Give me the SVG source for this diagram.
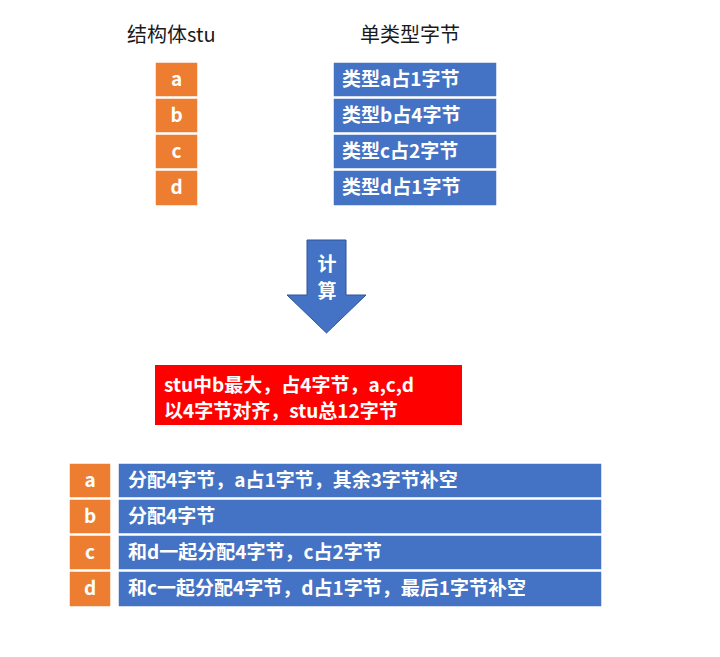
<svg xmlns="http://www.w3.org/2000/svg" width="720" height="657" viewBox="0 0 720 657">
<style>
text{font-family:"Noto Sans CJK SC","Noto Sans",sans-serif;font-weight:bold;}
.o{fill:#ED7D31;stroke:#fff;stroke-width:1.5}
.b{fill:#4472C4;stroke:#fff;stroke-width:1.5}
.w{fill:#fff;font-size:19px}
.h{fill:#1a1a1a;font-size:20px;font-weight:normal}
</style>
<rect width="720" height="657" fill="#fff"/>
<text class="h" x="127" y="42">结构体stu</text>
<text class="h" x="360" y="42">单类型字节</text>
<g id="stu">
<rect class="o" x="155" y="62" width="43" height="35"/><text class="w" x="176.5" y="86" text-anchor="middle">a</text>
<rect class="o" x="155" y="98" width="43" height="35"/><text class="w" x="176.5" y="122" text-anchor="middle">b</text>
<rect class="o" x="155" y="134" width="43" height="35"/><text class="w" x="176.5" y="158" text-anchor="middle">c</text>
<rect class="o" x="155" y="170" width="43" height="36"/><text class="w" x="176.5" y="194" text-anchor="middle">d</text>
</g>
<g id="types">
<rect class="b" x="333" y="62" width="164" height="35"/><text class="w" x="342" y="86">类型a占1字节</text>
<rect class="b" x="333" y="98" width="164" height="35"/><text class="w" x="342" y="122">类型b占4字节</text>
<rect class="b" x="333" y="134" width="164" height="35"/><text class="w" x="342" y="158">类型c占2字节</text>
<rect class="b" x="333" y="170" width="164" height="36"/><text class="w" x="342" y="194">类型d占1字节</text>
</g>
<g id="connectors">
<polygon points="307,240 346,240 346,295 366,295 326.5,333 287,295 307,295" fill="#4472C4" stroke="#2F5597" stroke-width="1"/>
<text x="327" y="271" fill="#fff" font-size="19" font-weight="normal" text-anchor="middle">计</text>
<text x="327" y="298" fill="#fff" font-size="19" font-weight="normal" text-anchor="middle">算</text>
</g>
<g id="result">
<rect x="155" y="365" width="307" height="60" fill="#FF0000"/>
<text class="w" x="164" y="392">stu中b最大，占4字节，a,c,d</text>
<text class="w" x="164" y="418">以4字节对齐，stu总12字节</text>
</g>
<g id="layout">
<rect class="o" x="69" y="463" width="42" height="35"/><text class="w" x="90" y="487" text-anchor="middle">a</text>
<rect class="o" x="69" y="499" width="42" height="35"/><text class="w" x="90" y="523" text-anchor="middle">b</text>
<rect class="o" x="69" y="535" width="42" height="35"/><text class="w" x="90" y="559" text-anchor="middle">c</text>
<rect class="o" x="69" y="571" width="42" height="36"/><text class="w" x="90" y="595" text-anchor="middle">d</text>
<rect class="b" x="118" y="463" width="484" height="35"/><text class="w" x="128" y="487">分配4字节，a占1字节，其余3字节补空</text>
<rect class="b" x="118" y="499" width="484" height="35"/><text class="w" x="128" y="523">分配4字节</text>
<rect class="b" x="118" y="535" width="484" height="35"/><text class="w" x="128" y="559">和d一起分配4字节，c占2字节</text>
<rect class="b" x="118" y="571" width="484" height="36"/><text class="w" x="128" y="595">和c一起分配4字节，d占1字节，最后1字节补空</text>
</g>
</svg>
